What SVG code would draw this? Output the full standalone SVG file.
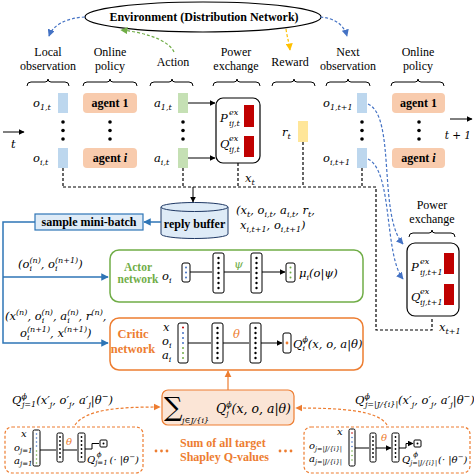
<svg xmlns="http://www.w3.org/2000/svg" width="474" height="475" viewBox="0 0 474 475">
<style>
text{font-family:"Liberation Serif",Tinos,"Times New Roman","DejaVu Serif",serif;font-size:12px;fill:#000}
.b{font-weight:bold}
.c{text-anchor:middle}
.m{font-family:"DejaVu Serif","Liberation Serif",serif;font-style:italic;font-size:11.5px}
.s{font-size:8px}
.or{fill:#ED7D31}
.gr{fill:#70AD47}
.brace{fill:none;stroke:#000;stroke-width:1}
.dash{fill:none;stroke:#000;stroke-width:1.2;stroke-dasharray:3 2}
.arr{fill:none;stroke:#000;stroke-width:1}
.vec{fill:#fff;stroke:#000;stroke-width:1}
.ag{fill:#F8CBAD}
.ob{fill:#BDD7EE}
.ac{fill:#C5E0B4}
.red{fill:#C00000}
.bl{fill:none;stroke:#2E75B6;stroke-width:1.5}
.bd{fill:none;stroke:#4472C4;stroke-width:1.2;stroke-dasharray:3 2}
.od{fill:none;stroke:#ED7D31;stroke-width:1.2;stroke-dasharray:3 2}
</style>
<defs>
<marker id="ak" viewBox="0 0 10 10" refX="9" refY="5" markerWidth="6" markerHeight="6" orient="auto"><path d="M0,0L10,5L0,10z" fill="#000"/></marker>
<marker id="abl" viewBox="0 0 10 10" refX="9" refY="5" markerWidth="5" markerHeight="5" orient="auto"><path d="M0,0L10,5L0,10z" fill="#2E75B6"/></marker>
<marker id="abd" viewBox="0 0 10 10" refX="9" refY="5" markerWidth="6" markerHeight="6" orient="auto"><path d="M0,0L10,5L0,10z" fill="#4472C4"/></marker>
<marker id="agr" viewBox="0 0 10 10" refX="9" refY="5" markerWidth="6" markerHeight="6" orient="auto"><path d="M0,0L10,5L0,10z" fill="#70AD47"/></marker>
<marker id="ay" viewBox="0 0 10 10" refX="9" refY="5" markerWidth="6" markerHeight="6" orient="auto"><path d="M0,0L10,5L0,10z" fill="#FFC000"/></marker>
<marker id="aor" viewBox="0 0 10 10" refX="9" refY="5" markerWidth="6" markerHeight="6" orient="auto"><path d="M0,0L10,5L0,10z" fill="#ED7D31"/></marker>
</defs>

<g id="environment">
<ellipse cx="203" cy="17" rx="118" ry="15" fill="#fff" stroke="#000" stroke-width="1.2"/>
<text class="b c" x="204" y="21">Environment (Distribution Network)</text>
</g>

<g id="headers">
<text class="c" x="48" y="56">Local</text><text class="c" x="48" y="70">observation</text>
<text class="c" x="110" y="56">Online</text><text class="c" x="110" y="70">policy</text>
<text class="c" x="173" y="66">Action</text>
<text class="c" x="236" y="56">Power</text><text class="c" x="236" y="70">exchange</text>
<text class="c" x="290" y="66">Reward</text>
<text class="c" x="348" y="56">Next</text><text class="c" x="348" y="70">observation</text>
<text class="c" x="418" y="56">Online</text><text class="c" x="418" y="70">policy</text>
<path class="brace" d="M27,86Q27,82 31,82H45Q48,82 48,79Q48,82 51,82H65Q69,82 69,86"/>
<path class="brace" d="M83,86Q83,82 87,82H107Q110,82 110,79Q110,82 113,82H133Q137,82 137,86"/>
<path class="brace" d="M150,86Q150,82 154,82H169Q172,82 172,79Q172,82 175,82H189Q193,82 193,86"/>
<path class="brace" d="M213,86Q213,82 217,82H234Q237,82 237,79Q237,82 240,82H256Q260,82 260,86"/>
<path class="brace" d="M272,86Q272,82 276,82H291Q294,82 294,79Q294,82 297,82H311Q315,82 315,86"/>
<path class="brace" d="M326,86Q326,82 330,82H345Q348,82 348,79Q348,82 351,82H366Q370,82 370,86"/>
<path class="brace" d="M391,86Q391,82 395,82H415Q418,82 418,79Q418,82 421,82H440Q444,82 444,86"/>
</g>

<g id="time">
<text class="m" x="11" y="148">t</text>
<text class="m" x="471" y="139" text-anchor="end" style="font-size:10.5px">t + 1</text>
</g>

<g id="obs-t">
<text class="m" x="33" y="107">o<tspan class="s" dy="3">1,t</tspan></text>
<rect class="ob" x="58" y="93" width="10" height="20"/>
<text class="m" x="33" y="162">o<tspan class="s" dy="3">i,t</tspan></text>
<rect class="ob" x="58" y="148" width="10" height="20"/>
<circle cx="63" cy="122" r="1.8"/><circle cx="63" cy="130.5" r="1.8"/><circle cx="63" cy="139" r="1.8"/>
</g>

<g id="agents-t">
<rect class="ag" x="83" y="93" width="54" height="20" rx="4"/>
<text class="b c" x="110" y="107">agent 1</text>
<rect class="ag" x="83" y="148" width="54" height="20" rx="4"/>
<text class="b c" x="110" y="162">agent <tspan font-style="italic">i</tspan></text>
<circle cx="110" cy="122" r="1.8"/><circle cx="110" cy="130.5" r="1.8"/><circle cx="110" cy="139" r="1.8"/>
</g>

<g id="actions-t">
<text class="m" x="154" y="107">a<tspan class="s" dy="3">1,t</tspan></text>
<rect class="ac" x="178" y="93" width="10" height="20"/>
<text class="m" x="154" y="162">a<tspan class="s" dy="3">i,t</tspan></text>
<rect class="ac" x="178" y="148" width="10" height="20"/>
<circle cx="183" cy="122" r="1.8"/><circle cx="183" cy="130.5" r="1.8"/><circle cx="183" cy="139" r="1.8"/>
</g>

<g id="power-t">
<rect x="216" y="98" width="44" height="65" rx="7" fill="#fff" stroke="#000" stroke-width="1.2"/>
<text class="m" x="220" y="122">P</text><text class="m s" x="229" y="115">ex</text><text class="m s" x="229" y="126">ij,t</text>
<rect class="red" x="244" y="105" width="10" height="22"/>
<text class="m" x="220" y="148">Q</text><text class="m s" x="229" y="141">ex</text><text class="m s" x="229" y="152">ij,t</text>
<rect class="red" x="244" y="136" width="10" height="21"/>
<text class="m" x="245" y="182">x<tspan class="s" dy="3">t</tspan></text>
</g>

<g id="reward">
<text class="m" x="282" y="136">r<tspan class="s" dy="3">t</tspan></text>
<rect x="298" y="121" width="10" height="21" fill="#FFE699"/>
</g>

<g id="obs-t1">
<text class="m" x="323" y="107">o<tspan class="s" dy="3">1,t+1</tspan></text>
<rect class="ob" x="357" y="93" width="10" height="20"/>
<text class="m" x="323" y="162">o<tspan class="s" dy="3">i,t+1</tspan></text>
<rect class="ob" x="357" y="148" width="10" height="20"/>
<circle cx="362" cy="122" r="1.8"/><circle cx="362" cy="130.5" r="1.8"/><circle cx="362" cy="139" r="1.8"/>
</g>

<g id="agents-t1">
<rect class="ag" x="392" y="93" width="53" height="20" rx="4"/>
<text class="b c" x="418.5" y="107">agent 1</text>
<rect class="ag" x="392" y="148" width="53" height="20" rx="4"/>
<text class="b c" x="418.5" y="162">agent <tspan font-style="italic">i</tspan></text>
<circle cx="419" cy="122" r="1.8"/><circle cx="419" cy="130.5" r="1.8"/><circle cx="419" cy="139" r="1.8"/>
</g>

<g id="reply-buffer">
<path d="M161,207V234A33.5,4.5 0 0 0 228,234V207" fill="#DEEBF7" stroke="#1F3864" stroke-width="1"/>
<ellipse cx="194.5" cy="207" rx="33.5" ry="4.5" fill="#DEEBF7" stroke="#1F3864" stroke-width="1"/>
<text class="b c" x="194.5" y="228">reply buffer</text>
<text class="m" x="236" y="214">(x<tspan class="s" dy="3">t</tspan><tspan dy="-3">, o</tspan><tspan class="s" dy="3">i,t</tspan><tspan dy="-3">, a</tspan><tspan class="s" dy="3">i,t</tspan><tspan dy="-3">, r</tspan><tspan class="s" dy="3">t</tspan><tspan dy="-3">,</tspan></text>
<text class="m" x="240" y="229">x<tspan class="s" dy="3">i,t+1</tspan><tspan dy="-3">, o</tspan><tspan class="s" dy="3">i,t+1</tspan><tspan dy="-3">)</tspan></text>
</g>

<g id="mini-batch">
<rect x="35" y="214" width="108" height="16" fill="#DEEBF7" stroke="#2E75B6" stroke-width="1.2"/>
<text class="b c" x="89" y="226">sample mini-batch</text>
</g>

<g id="power-t1">
<text class="c" x="432" y="209">Power</text><text class="c" x="432" y="223">exchange</text>
<path class="brace" d="M409,237Q409,233 413,233H429Q432,233 432,230Q432,233 435,233H451Q455,233 455,237"/>
<rect x="407" y="243" width="52" height="73" rx="8" fill="#fff" stroke="#000" stroke-width="1.2"/>
<text class="m" x="411" y="271">P</text><text class="m s" x="420" y="264">ex</text><text class="m s" x="420" y="275">ij,t+1</text>
<rect class="red" x="444" y="253" width="10" height="21"/>
<text class="m" x="411" y="301">Q</text><text class="m s" x="420" y="294">ex</text><text class="m s" x="420" y="305">ij,t+1</text>
<rect class="red" x="444" y="284" width="10" height="21"/>
<text class="m" x="439" y="331">x<tspan class="s" dy="3">t+1</tspan></text>
</g>

<g id="tuples">
<text class="m" x="18" y="268">(o<tspan class="s" dy="3">i</tspan><tspan class="s" dx="-2.6" dy="-8">(n)</tspan><tspan dy="5">, o</tspan><tspan class="s" dy="3">i</tspan><tspan class="s" dx="-2.6" dy="-8">(n+1)</tspan><tspan dy="5">)</tspan></text>
<text class="m" x="5" y="320">(x<tspan class="s" dy="-5">(n)</tspan><tspan dy="5">, o</tspan><tspan class="s" dy="3">i</tspan><tspan class="s" dx="-2.6" dy="-8">(n)</tspan><tspan dy="5">, a</tspan><tspan class="s" dy="3">i</tspan><tspan class="s" dx="-2.6" dy="-8">(n)</tspan><tspan dy="5">, r</tspan><tspan class="s" dy="-5">(n)</tspan><tspan dy="5">,</tspan></text>
<text class="m" x="20" y="337">o<tspan class="s" dy="3">i</tspan><tspan class="s" dx="-2.6" dy="-8">(n+1)</tspan><tspan dy="5">, x</tspan><tspan class="s" dy="-5">(n+1)</tspan><tspan dy="5">)</tspan></text>
</g>

<g id="actor">
<rect x="110" y="250" width="253" height="52" rx="9" fill="#fff" stroke="#70AD47" stroke-width="1.5"/>
<text class="b c gr" x="138" y="271" style="font-size:11.5px">Actor</text>
<text class="b c gr" x="138" y="283" style="font-size:11.5px">network</text>
<text class="m" x="162" y="280">o<tspan class="s" dy="3">i</tspan></text>
<rect class="vec" x="182" y="263" width="8" height="19" rx="2"/>
<g fill="#4472C4"><circle cx="186" cy="267.5" r="1"/><circle cx="186" cy="272.5" r="1"/><circle cx="186" cy="277.5" r="1"/></g>
<rect class="vec" x="213" y="253" width="11" height="40" rx="2"/>
<g><circle cx="218.5" cy="258" r="1.2"/><circle cx="218.5" cy="263" r="1.2"/><circle cx="218.5" cy="268" r="1.2"/><circle cx="218.5" cy="273" r="1.2"/><circle cx="218.5" cy="278" r="1.2"/><circle cx="218.5" cy="283" r="1.2"/><circle cx="218.5" cy="288" r="1.2"/></g>
<text class="m gr" x="234" y="268">ψ</text>
<rect class="vec" x="251" y="253" width="11" height="40" rx="2"/>
<g><circle cx="256.5" cy="258" r="1.2"/><circle cx="256.5" cy="263" r="1.2"/><circle cx="256.5" cy="268" r="1.2"/><circle cx="256.5" cy="273" r="1.2"/><circle cx="256.5" cy="278" r="1.2"/><circle cx="256.5" cy="283" r="1.2"/><circle cx="256.5" cy="288" r="1.2"/></g>
<rect class="vec" x="286" y="263" width="9" height="19" rx="2"/>
<g fill="#70AD47"><circle cx="290.5" cy="267.5" r="1"/><circle cx="290.5" cy="272.5" r="1"/><circle cx="290.5" cy="277.5" r="1"/></g>
<text class="m" x="299" y="277">μ<tspan class="s" dy="3">i</tspan><tspan dy="-3">(o|ψ)</tspan></text>
</g>

<g id="critic">
<rect x="110" y="318" width="253" height="52" rx="9" fill="#fff" stroke="#ED7D31" stroke-width="1.5"/>
<text class="b c or" x="133" y="338" style="font-size:12.5px">Critic</text>
<text class="b c or" x="133" y="353" style="font-size:12.5px">network</text>
<text class="m" x="163" y="331">x</text>
<text class="m" x="162" y="345">o<tspan class="s" dy="3">i</tspan></text>
<text class="m" x="162" y="359">a<tspan class="s" dy="3">i</tspan></text>
<rect class="vec" x="178" y="323" width="10" height="40" rx="2"/>
<circle cx="183" cy="327.5" r="1" fill="#C00000"/>
<g fill="#4472C4"><circle cx="183" cy="333" r="1"/><circle cx="183" cy="338" r="1"/><circle cx="183" cy="343" r="1"/></g>
<g fill="#70AD47"><circle cx="183" cy="348" r="1"/><circle cx="183" cy="353" r="1"/><circle cx="183" cy="358" r="1"/></g>
<rect class="vec" x="212" y="323" width="11" height="40" rx="2"/>
<g><circle cx="217.5" cy="328" r="1.2"/><circle cx="217.5" cy="333" r="1.2"/><circle cx="217.5" cy="338" r="1.2"/><circle cx="217.5" cy="343" r="1.2"/><circle cx="217.5" cy="348" r="1.2"/><circle cx="217.5" cy="353" r="1.2"/><circle cx="217.5" cy="358" r="1.2"/></g>
<text class="m or" x="233" y="338">θ</text>
<rect class="vec" x="250" y="323" width="11" height="40" rx="2"/>
<g><circle cx="255.5" cy="328" r="1.2"/><circle cx="255.5" cy="333" r="1.2"/><circle cx="255.5" cy="338" r="1.2"/><circle cx="255.5" cy="343" r="1.2"/><circle cx="255.5" cy="348" r="1.2"/><circle cx="255.5" cy="353" r="1.2"/><circle cx="255.5" cy="358" r="1.2"/></g>
<rect class="vec" x="283" y="333" width="8" height="20" rx="2"/>
<circle cx="287" cy="343" r="1.4" fill="#ED7D31"/>
<text class="m" x="293" y="348">Q<tspan class="s" dy="3">i</tspan><tspan class="s" dx="-2.6" dy="-9">ϕ</tspan><tspan dy="6">(x, o, a|θ)</tspan></text>
</g>

<g id="sum">
<rect x="162" y="390" width="132" height="35" rx="6" fill="#FBE5D6" stroke="#ED7D31" stroke-width="1.2"/>
<text x="164" y="416" style="font-family:'DejaVu Serif',serif;font-size:26px">∑</text>
<text class="m s" x="182" y="423">j∈J/{i}</text>
<text class="m" x="216" y="413" style="font-size:12.5px">Q<tspan class="s" dy="3">j</tspan><tspan class="s" dx="-2.6" dy="-9">ϕ</tspan><tspan dy="6">(x, o, a|θ)</tspan></text>
</g>

<g id="sum-label">
<text class="b or" x="180" y="447">Sum of all target</text>
<text class="b or" x="180" y="461">Shapley Q-values</text>
<g fill="#ED7D31"><circle cx="156" cy="451" r="1.4"/><circle cx="161.5" cy="451" r="1.4"/><circle cx="167" cy="451" r="1.4"/>
<circle cx="280" cy="451" r="1.4"/><circle cx="285.5" cy="451" r="1.4"/><circle cx="291" cy="451" r="1.4"/></g>
</g>

<g id="target-1">
<text class="m" x="12" y="404">Q<tspan class="s" dy="-5">ϕ</tspan><tspan class="s" dx="-5" dy="8">j=1</tspan><tspan dy="-3">(x′</tspan><tspan class="s" dy="3">j</tspan><tspan dy="-3">, o′</tspan><tspan class="s" dy="3">j</tspan><tspan dy="-3">, a′</tspan><tspan class="s" dy="3">j</tspan><tspan dy="-3">|θ</tspan><tspan class="s" dy="-5">−</tspan><tspan dy="5">)</tspan></text>
<rect x="5" y="427" width="138" height="46" rx="7" class="od"/>
<text class="m" x="21" y="437" style="font-size:10px">x</text>
<text class="m" x="14" y="451" style="font-size:10px">o<tspan style="font-size:7px" dy="2">j=1</tspan></text>
<text class="m" x="14" y="464" style="font-size:10px">a<tspan style="font-size:7px" dy="2">j=1</tspan></text>
<rect class="vec" x="33" y="430" width="7" height="36" rx="1.5"/>
<g fill="#4472C4"><circle cx="36.5" cy="434" r="0.8"/><circle cx="36.5" cy="438" r="0.8"/><circle cx="36.5" cy="442" r="0.8"/><circle cx="36.5" cy="446" r="0.8"/></g>
<g fill="#70AD47"><circle cx="36.5" cy="451" r="0.8"/><circle cx="36.5" cy="455" r="0.8"/><circle cx="36.5" cy="459" r="0.8"/><circle cx="36.5" cy="463" r="0.8"/></g>
<rect class="vec" x="57" y="433" width="6" height="29" rx="1.5"/>
<g><circle cx="60" cy="437" r="0.9"/><circle cx="60" cy="441" r="0.9"/><circle cx="60" cy="445" r="0.9"/><circle cx="60" cy="449" r="0.9"/><circle cx="60" cy="453" r="0.9"/><circle cx="60" cy="457" r="0.9"/></g>
<text class="m or" x="66" y="445" style="font-size:10px">θ</text>
<rect class="vec" x="78" y="433" width="7" height="29" rx="1.5"/>
<g><circle cx="81.5" cy="437" r="0.9"/><circle cx="81.5" cy="441" r="0.9"/><circle cx="81.5" cy="445" r="0.9"/><circle cx="81.5" cy="449" r="0.9"/><circle cx="81.5" cy="453" r="0.9"/><circle cx="81.5" cy="457" r="0.9"/></g>
<rect class="vec" x="100" y="440" width="7" height="7" rx="1"/>
<circle cx="103.5" cy="443.5" r="1"/>
<text class="m" x="87" y="463" style="font-size:10px">Q<tspan style="font-size:7px" dy="2">j=1</tspan><tspan style="font-size:7px" dx="-11" dy="-8">ϕ</tspan><tspan dx="8" dy="6">(· |θ</tspan><tspan style="font-size:7px" dy="-4">−</tspan><tspan dy="4">)</tspan></text>
</g>

<g id="target-n">
<text class="m" x="355" y="404">Q<tspan class="s" dy="-5">ϕ</tspan><tspan class="s" dx="-5" dy="8">j=|J/{i}|</tspan><tspan dy="-3">(x′</tspan><tspan class="s" dy="3">j</tspan><tspan dy="-3">, o′</tspan><tspan class="s" dy="3">j</tspan><tspan dy="-3">, a′</tspan><tspan class="s" dy="3">j</tspan><tspan dy="-3">|θ</tspan><tspan class="s" dy="-5">−</tspan><tspan dy="5">)</tspan></text>
<rect x="304" y="427" width="166" height="46" rx="7" class="od"/>
<text class="m" x="337" y="435" style="font-size:10px">x</text>
<text class="m" x="309" y="449" style="font-size:10px">o<tspan style="font-size:6.5px" dy="2">j=|J/{i}|</tspan></text>
<text class="m" x="309" y="462" style="font-size:10px">a<tspan style="font-size:6.5px" dy="2">j=|J/{i}|</tspan></text>
<rect class="vec" x="349" y="429" width="6" height="37" rx="1.5"/>
<circle cx="352" cy="433" r="0.8" fill="#C00000"/>
<g fill="#4472C4"><circle cx="352" cy="437.5" r="0.8"/><circle cx="352" cy="442" r="0.8"/><circle cx="352" cy="446.5" r="0.8"/></g>
<g fill="#70AD47"><circle cx="352" cy="451" r="0.8"/><circle cx="352" cy="455.5" r="0.8"/><circle cx="352" cy="460" r="0.8"/></g>
<rect class="vec" x="370" y="433" width="6" height="29" rx="1.5"/>
<g><circle cx="373" cy="437" r="0.9"/><circle cx="373" cy="441" r="0.9"/><circle cx="373" cy="445" r="0.9"/><circle cx="373" cy="449" r="0.9"/><circle cx="373" cy="453" r="0.9"/><circle cx="373" cy="457" r="0.9"/></g>
<text class="m or" x="381" y="441" style="font-size:10px">θ</text>
<rect class="vec" x="392" y="433" width="7" height="29" rx="1.5"/>
<g><circle cx="395.5" cy="437" r="0.9"/><circle cx="395.5" cy="441" r="0.9"/><circle cx="395.5" cy="445" r="0.9"/><circle cx="395.5" cy="449" r="0.9"/><circle cx="395.5" cy="453" r="0.9"/><circle cx="395.5" cy="457" r="0.9"/></g>
<rect class="vec" x="414" y="440" width="7" height="7" rx="1"/>
<circle cx="417.5" cy="443.5" r="1"/>
<text class="m" x="402" y="463" style="font-size:10px">Q<tspan style="font-size:6.5px" dy="2">j=|J/{i}|</tspan><tspan style="font-size:7px" dx="-24" dy="-8">ϕ</tspan><tspan dx="20" dy="6">(· |θ</tspan><tspan style="font-size:7px" dy="-4">−</tspan><tspan dy="4">)</tspan></text>
</g>

<g id="connectors">
<path d="M85,17C66,18 53,25 49,36" class="bd" marker-end="url(#abd)"/>
<path d="M174,52C168,39 142,32 121,30" fill="none" stroke="#70AD47" stroke-width="1.2" stroke-dasharray="3 2" marker-end="url(#agr)"/>
<path d="M286,29C287,37 289,42 290,50" fill="none" stroke="#FFC000" stroke-width="1.2" stroke-dasharray="3 2" marker-end="url(#ay)"/>
<path d="M320,17C335,18 344,25 347,36" class="bd" marker-end="url(#abd)"/>
<path d="M3,132H24" class="arr" marker-end="url(#ak)"/>
<path d="M450,119H472" class="arr" marker-end="url(#ak)"/>
<path d="M188,103H215" class="arr" stroke-width="1.2" marker-end="url(#ak)"/>
<path d="M188,158H215" class="arr" stroke-width="1.2" marker-end="url(#ak)"/>
<path class="dash" d="M63,168V187M183,168V187M238,163V187M303,142V187M362,168V187M63,187H376V330H432V317"/>
<path d="M193,187V202" class="arr" stroke-width="1.2" marker-end="url(#ak)"/>
<path d="M368,104C396,116 378,216 403,244" class="bd" marker-end="url(#abd)"/>
<path d="M368,159C393,171 384,255 403,279" class="bd" marker-end="url(#abd)"/>
<path d="M161,222H144" class="bl" marker-end="url(#abl)"/>
<path d="M35,222H3V343H108" class="bl" marker-end="url(#abl)"/>
<path d="M3,277H108" class="bl" marker-end="url(#abl)"/>
<path d="M190,272H212M224,272H250M262,272H285" class="arr" marker-end="url(#ak)"/>
<path d="M188,343H211M223,343H249M261,343H282" class="arr" marker-end="url(#ak)"/>
<path d="M228,390V371" fill="none" stroke="#ED7D31" stroke-width="1.2" marker-end="url(#aor)"/>
<path d="M75,425C86,409 120,407 160,407" class="od" marker-end="url(#aor)"/>
<path d="M387,425C378,410 340,408 296,408" class="od" marker-end="url(#aor)"/>
<path d="M40,450H56M63,450H77M355,448H369M376,448H391" class="arr" marker-end="url(#ak)"/>
<path d="M85,449H92V443.5H99M399,448H406V443.5H413" class="arr" marker-end="url(#ak)"/>
</g>
</svg>
